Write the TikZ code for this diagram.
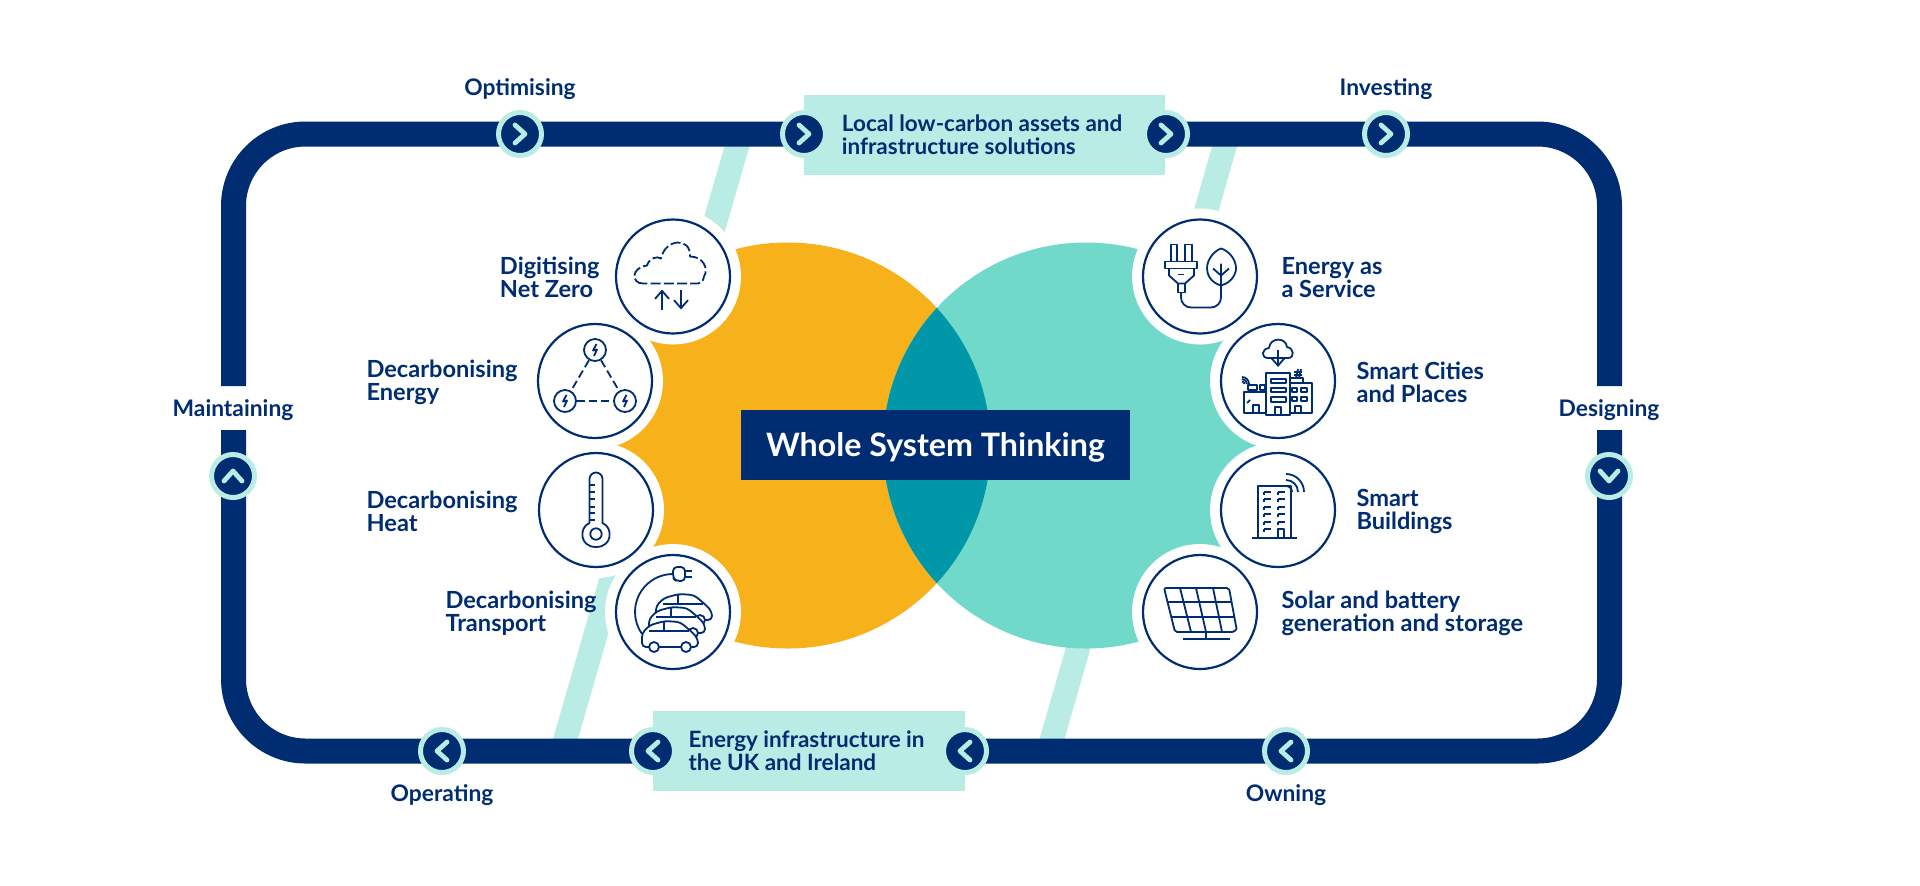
\documentclass[tikz,border=0pt]{standalone}
\usepackage{fontspec}
\setmainfont{Lato}
\usetikzlibrary{positioning,arrows.meta}
\definecolor{navybar}{HTML}{002D72}
\definecolor{paleband}{HTML}{B9ECE4}
\definecolor{goldlobe}{HTML}{F6B11B}
\definecolor{teallobe}{HTML}{70D9C9}
\definecolor{lenscol}{HTML}{0097A9}
\newcommand{\chev}[2]{\draw[chev, shift={(#1)}, rotate=#2] (-5,-9) -- (5,0) -- (-5,9);}
\newcommand{\boltmark}[1]{\draw[icn, shift={(#1)}] (1.5,-6) -- (-2,0.5) -- (2,-0.5) -- (-1,6);}
\newcommand{\carshape}{%
  \draw[icn, fill=white, rounded corners=2pt] (-31,35) -- (-31,21) -- (-23,13) -- (-8,9) -- (7,10) -- (20,21) -- (25,27) -- (25,35) -- cycle;
  \draw[icn] (-24,19) -- (16,19) (-9,9.5) -- (-9,19);
  \draw[icn, fill=white] (-19,35) circle[radius=5] (13,35) circle[radius=5];}
\begin{document}
\begin{tikzpicture}[
  x=0.5pt, y=-0.5pt,
  track/.style={draw=navybar, line width=12.5pt, rounded corners=36pt},
  band/.style={draw=paleband, line width=12pt},
  lobe/.style={circle, minimum size=203pt, inner sep=0pt, outer sep=0pt},
  tagbox/.style={fill=paleband, text=navybar, align=left, font=\fontsize{11.25}{11.5}\selectfont\bfseries, minimum height=40pt, inner sep=0pt},
  stepbtn/.style={circle, fill=navybar, draw=paleband, line width=2.5pt, minimum size=21.5pt, inner sep=0pt},
  chev/.style={draw=paleband, line width=2.4pt, line cap=round, line join=round},
  hub/.style={circle, draw=navybar, fill=white, line width=1.1pt, minimum size=57pt, inner sep=0pt, preaction={draw=white, line width=11pt}},
  lbl/.style={align=left, inner sep=0pt, text=navybar, yshift=-0.6pt, font=\fontsize{11.8}{11.5}\selectfont\bfseries},
  steplbl/.style={inner sep=0pt, text=navybar, font=\fontsize{11.4}{11.5}\selectfont\bfseries},
  icn/.style={draw=navybar, line width=0.9pt, line join=round},
  icnarr/.style={icn, -{Straight Barb[length=4pt,width=7pt]}},
  bolthub/.style={circle, draw=navybar, fill=white, line width=0.9pt, minimum size=11pt, inner sep=0pt}
]
  \useasboundingbox (0,0) rectangle (1920,885);

  \coordinate (bandA) at (740.5,134);
  \coordinate (bandAend) at (707,250);
  \coordinate (bandB) at (1228,134);
  \coordinate (bandBend) at (1195,250);
  \coordinate (bandC) at (562,751);
  \coordinate (bandCend) at (617,560);
  \coordinate (bandD) at (1048.5,751);
  \coordinate (bandDend) at (1080.5,640);
  \draw[band] (bandA) -- (bandAend);
  \draw[band] (bandB) -- (bandBend);
  \draw[band] (bandC) -- (bandCend);
  \draw[band] (bandD) -- (bandDend);

  \coordinate (trackLa) at (233.5,386);
  \coordinate (trackRa) at (1609.5,386);
  \coordinate (trackLb) at (233.5,430);
  \coordinate (trackRb) at (1609.5,430);
  \coordinate (trackTop) at (900,134);
  \coordinate (trackBot) at (900,751);
  \draw[track] (trackLa) |- (trackTop) -| (trackRa);
  \draw[track] (trackLb) |- (trackBot) -| (trackRb);

  \node[lobe, fill=goldlobe] (gold) at (787.5,445.5) {};
  \node[lobe, fill=teallobe] (teal) at (1086,445.5) {};
  \begin{scope}
    \clip (787.5,445.5) circle[radius=203];
    \fill[lenscol] (1086,445.5) circle[radius=203];
  \end{scope}

  \node[tagbox, minimum width=180.5pt] (localbox) at (984.5,134.5) {Local low-carbon assets and\hspace*{2.4pt}\\infrastructure solutions};
  \node[tagbox, minimum width=156pt] (ukbox) at (809,751) {Energy infrastructure in\hspace*{2.4pt}\\the UK and Ireland};

  \node[stepbtn] (opt) at (520,134) {};
  \node[stepbtn] (locL) at (804,134) {};
  \node[stepbtn] (locR) at (1166,134) {};
  \node[stepbtn] (inv) at (1386,134) {};
  \node[stepbtn] (des) at (1609,476) {};
  \node[stepbtn] (own) at (1286,751) {};
  \node[stepbtn] (ukR) at (965,751) {};
  \node[stepbtn] (ukL) at (653,751) {};
  \node[stepbtn] (ope) at (442,751) {};
  \node[stepbtn] (mai) at (233,476) {};
  \chev{opt}{0}
  \chev{locL}{0}
  \chev{locR}{0}
  \chev{inv}{0}
  \chev{des}{-90}
  \chev{own}{180}
  \chev{ukR}{180}
  \chev{ukL}{180}
  \chev{ope}{180}
  \chev{mai}{90}

  \node[steplbl, above=5pt of opt] {Optimising};
  \node[steplbl, above=5pt of inv] {Investing};
  \node[steplbl, below=4.5pt of ope] {Operating};
  \node[steplbl, below=4.5pt of own] {Owning};
  \node[steplbl, above=15.5pt of mai] {Maintaining};
  \node[steplbl, above=15.5pt of des] {Designing};

  \node[hub] (digi) at (673,276.5) {};
  \node[hub] (ener) at (595,381) {};
  \node[hub] (heat) at (596,510) {};
  \node[hub] (tran) at (673,612) {};
  \node[hub] (eaas) at (1200,276.5) {};
  \node[hub] (city) at (1278,381) {};
  \node[hub] (bldg) at (1278,510) {};
  \node[hub] (solr) at (1200,612) {};

  \node[lbl, left=7.5pt of digi] {Digitising\\Net Zero};
  \node[lbl, left=9.5pt of ener] {Decarbonising\\Energy};
  \node[lbl, left=10pt of heat] {Decarbonising\\Heat};
  \node[lbl, left=9pt of tran] {Decarbonising\\Transport};
  \node[lbl, right=11.5pt of eaas] {Energy as\\a Service};
  \node[lbl, right=10pt of city] {Smart Cities\\and Places};
  \node[lbl, right=10pt of bldg] {Smart\\Buildings};
  \node[lbl, right=11.5pt of solr] {Solar and battery\\generation and storage};

  \begin{scope}[shift={(digi)}]
    \draw[icn, dash pattern=on 5pt off 1.6pt] (-30,7) .. controls (-42,7) and (-42,-9) .. (-26,-11) .. controls (-24,-18) and (-16,-21) .. (-12,-18) .. controls (-8,-38) and (18,-40) .. (17,-20) .. controls (30,-20) and (36,-8) .. (31,0) .. controls (30,5) and (28,7) .. (25,7) -- cycle;
    \draw[icnarr] (-11,33) -- (-11,13);
    \draw[icnarr] (8,13) -- (8,33);
  \end{scope}

  \begin{scope}[shift={(ener)}]
    \node[bolthub] (enerA) at (0,-31) {};
    \node[bolthub] (enerB) at (-30,20) {};
    \node[bolthub] (enerC) at (30,20) {};
    \boltmark{enerA}
    \boltmark{enerB}
    \boltmark{enerC}
    \draw[icn, dash pattern=on 4pt off 2pt] (enerA) -- (enerB);
    \draw[icn, dash pattern=on 4pt off 2pt] (enerA) -- (enerC);
    \draw[icn, dash pattern=on 4pt off 2pt] (enerB) -- (enerC);
  \end{scope}

  \begin{scope}[shift={(heat)}]
    \draw[icn] (-6.5,13) -- (-6.5,-31) arc[start angle=180, end angle=360, radius=6.5] -- (6.5,13) .. controls (17,17) and (17,37) .. (0,37) .. controls (-17,37) and (-17,17) .. (-6.5,13);
    \draw[icn] (0,24) circle[radius=5.7];
    \draw[icn] (-6.5,-25) -- (-1.5,-25) (-6.5,-18) -- (-1.5,-18) (-6.5,-11) -- (-1.5,-11) (-6.5,-3) -- (-1.5,-3) (-6.5,3) -- (-1.5,3) (-6.5,10) -- (-1.5,10);
  \end{scope}

  \begin{scope}[shift={(tran)}]
    \draw[icn] (0,-38) arc[start angle=-90, end angle=-215, radius=38];
    \draw[icn, rounded corners=2pt] (0,-45) -- (12,-45) -- (12,-31) -- (3,-31) -- (0,-34) -- cycle;
    \draw[icn] (12,-41) -- (19,-41) (12,-35) -- (19,-35);
    \begin{scope}[shift={(14,-27)}]\carshape\end{scope}
    \begin{scope}[shift={(7,-14)}]\carshape\end{scope}
    \carshape
  \end{scope}

  \begin{scope}[shift={(eaas)}]
    \draw[icn] (-29,-15) -- (-29,-32) -- (-23,-32) -- (-23,-15) (-15,-15) -- (-15,-32) -- (-8,-32) -- (-8,-15);
    \draw[icn] (-35,-15) rectangle (-3,-8);
    \draw[icn] (-31,-8) -- (-31,-1) -- (-22,7) -- (-15,7) -- (-6,-1) -- (-6,-8);
    \draw[icn] (-22,-2) -- (-16,-2);
    \draw[icn] (-22,7) rectangle (-15,16);
    \draw[icn, rounded corners=5pt] (-19,16) -- (-19,31) -- (21,31) -- (21,9);
    \draw[icn] (21,9) .. controls (10,6) and (7,-3) .. (7,-8) .. controls (7,-18) and (15,-26) .. (21,-28) .. controls (28,-26) and (36,-18) .. (36,-8) .. controls (36,-3) and (32,6) .. (21,9);
    \draw[icn] (21,9) -- (21,-13) (13,-8) -- (21,-1) -- (29,-8);
  \end{scope}

  \begin{scope}[shift={(city)}]
    \draw[icn] (-10,-23) .. controls (-17,-23) and (-17,-32) .. (-9,-33) .. controls (-8,-44) and (8,-44) .. (9,-34) .. controls (16,-33) and (17,-23) .. (10,-23) -- cycle;
    \draw[icnarr] (0,-31) -- (0,-14);
    \draw[icn] (-12,-8) rectangle (12,34);
    \draw[icn] (-7,-2) rectangle (8,2) (-7,7) rectangle (8,11) (-7,16) rectangle (8,21);
    \draw[icn] (-3,34) -- (-3,26) -- (3,26) -- (3,34);
    \draw[icn] (12,2) -- (34,2) -- (34,32) -- (12,32);
    \draw[icn] (12,-3) -- (25,-3) -- (25,2);
    \draw[icn] (14,7) rectangle (19,11) (23,7) rectangle (29,11) (14,16) rectangle (19,20) (23,16) rectangle (29,20);
    \draw[icn] (17,32) -- (17,25) -- (23,25) -- (23,32);
    \draw[icn] (18,-3) -- (20,-12) (21,-3) -- (23,-12) (16,-9) -- (24,-9) (16,-6) -- (24,-6);
    \draw[icn] (-12,11) -- (-34,11) -- (-34,32) -- (-12,32);
    \draw[icn] (-25,32) -- (-25,24) -- (-19,24) -- (-19,32);
    \draw[icn] (-30,4) rectangle (-21,9) (-18,4) rectangle (-13,9);
    \draw[icn] (-25.5,9) -- (-25.5,11) (-15.5,9) -- (-15.5,11);
    \draw[icn] (-31,22) -- (-28,19);
    \draw[icn] (-36,0.5) arc[start angle=-90, end angle=0, radius=2.5];
    \draw[icn] (-36,-2) arc[start angle=-90, end angle=0, radius=5];
    \draw[icn] (-36,-4) arc[start angle=-90, end angle=0, radius=7];
  \end{scope}

  \begin{scope}[shift={(bldg)}]
    \draw[icn] (-20,28) -- (-20,-24) -- (13,-24) -- (13,28);
    \draw[icn] (-26,28) -- (19,28);
    \draw[icn] (0,28) -- (0,19) -- (6,19) -- (6,28);
    \draw[icn] (-14,-18) -- (-7,-18) (-14,-18) -- (-14,-15) (0,-18) -- (7,-18) (0,-18) -- (0,-15);
    \draw[icn] (-14,-11) -- (-7,-11) (-14,-11) -- (-14,-8) (0,-11) -- (7,-11) (0,-11) -- (0,-8);
    \draw[icn] (-14,-3) -- (-7,-3) (-14,-3) -- (-14,0) (0,-3) -- (7,-3) (0,-3) -- (0,0);
    \draw[icn] (-14,4) -- (-7,4) (-14,4) -- (-14,7) (0,4) -- (7,4) (0,4) -- (0,7);
    \draw[icn] (-14,12) -- (-7,12) (-14,12) -- (-14,15) (0,12) -- (7,12) (0,12) -- (0,15);
    \draw[icn] (-14,19) -- (-7,19) (-14,19) -- (-14,22);
    \draw[icn] (8,-24) arc[start angle=-90, end angle=0, radius=6];
    \draw[icn] (8,-30) arc[start angle=-90, end angle=0, radius=12];
    \draw[icn] (8,-36) arc[start angle=-90, end angle=0, radius=18];
  \end{scope}

  \begin{scope}[shift={(solr)}]
    \draw[icn, rounded corners=1pt] (-36,-24) -- (29,-24) -- (36,14) .. controls (37,18) and (33,20) .. (30,20) -- (-25,20) -- cycle;
    \draw[icn] (-33,-10) -- (31.5,-10) (-29.5,5) -- (34,5);
    \draw[icn] (-20,-24) -- (-9,20) (-4,-24) -- (6,20) (13,-24) -- (22,20);
    \draw[icn] (6,20) -- (6,27) (-17,27) -- (30,27);
  \end{scope}

  \node[fill=navybar, text=white, minimum width=194.5pt, minimum height=35pt, inner sep=0pt, font=\fontsize{16.1}{17}\selectfont\bfseries] (title) at (935.5,445) {\raisebox{-5.7pt}[0pt][0pt]{Whole System Thinking}};
\end{tikzpicture}
\end{document}
